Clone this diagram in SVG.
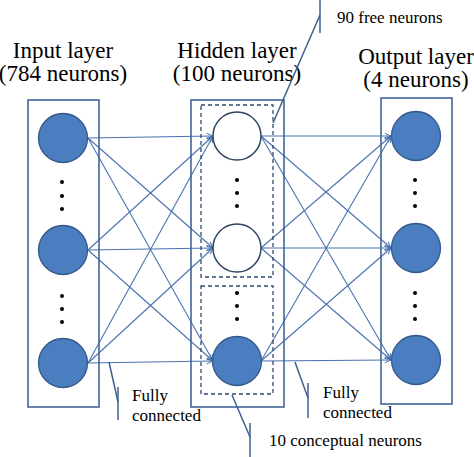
<svg xmlns="http://www.w3.org/2000/svg" width="474" height="457" viewBox="0 0 474 457">
<defs>
<marker id="arr" viewBox="0 0 10 10" refX="10" refY="5" markerWidth="7" markerHeight="7" orient="auto" markerUnits="userSpaceOnUse">
<path d="M1,1 L10,5 L1,9" fill="none" stroke="#4a72b0" stroke-width="1.4"/>
</marker>
<style>
.t{font-family:"Liberation Serif","Times New Roman",serif;fill:#000}
.big{font-size:23px}
.sm{font-size:17px}
.box{fill:none;stroke:#41649a;stroke-width:1.6}
.dash{fill:none;stroke:#2e4a70;stroke-width:1.3;stroke-dasharray:4,3}
.full{fill:#4a7ec0;stroke:#34598a;stroke-width:1.3}
.empty{fill:#fff;stroke:#2e4566;stroke-width:1.5}
.c{stroke:#4a72b0;stroke-width:1.1;fill:none;marker-end:url(#arr)}
.lead{stroke:#3f5f8f;stroke-width:1.5;fill:none}
.dot{fill:#000}
</style>
</defs>
<rect width="474" height="457" fill="#fff"/>

<g id="labels">
<text class="t big" x="63" y="58" text-anchor="middle">Input layer</text>
<text class="t big" x="63" y="81" text-anchor="middle">(784 neurons)</text>
<text class="t big" x="237" y="58" text-anchor="middle">Hidden layer</text>
<text class="t big" x="237" y="81" text-anchor="middle">(100 neurons)</text>
<text class="t big" x="416" y="64" text-anchor="middle">Output layer</text>
<text class="t big" x="416" y="87" text-anchor="middle">(4 neurons)</text>
</g>

<g id="connectors">
<line class="c" x1="88" y1="138" x2="213" y2="136"/>
<line class="c" x1="88" y1="138" x2="213" y2="248"/>
<line class="c" x1="88" y1="138" x2="213" y2="361"/>
<line class="c" x1="88" y1="250" x2="213" y2="136"/>
<line class="c" x1="88" y1="250" x2="213" y2="248"/>
<line class="c" x1="88" y1="250" x2="213" y2="361"/>
<line class="c" x1="88" y1="363" x2="213" y2="136"/>
<line class="c" x1="88" y1="363" x2="213" y2="248"/>
<line class="c" x1="88" y1="363" x2="213" y2="361"/>
<line class="c" x1="261" y1="136" x2="391" y2="136"/>
<line class="c" x1="261" y1="136" x2="391" y2="248"/>
<line class="c" x1="261" y1="136" x2="391" y2="360"/>
<line class="c" x1="261" y1="248" x2="391" y2="136"/>
<line class="c" x1="261" y1="248" x2="391" y2="248"/>
<line class="c" x1="261" y1="248" x2="391" y2="360"/>
<line class="c" x1="261" y1="361" x2="391" y2="136"/>
<line class="c" x1="261" y1="361" x2="391" y2="248"/>
<line class="c" x1="261" y1="361" x2="391" y2="360"/>
</g>

<g id="input-layer">
<rect class="box" x="28" y="100" width="71" height="307"/>
<circle class="full" cx="63" cy="138" r="24.5"/>
<circle class="full" cx="63" cy="250" r="24.5"/>
<circle class="full" cx="63" cy="363" r="24.5"/>
<circle class="dot" cx="62" cy="182" r="2"/>
<circle class="dot" cx="62" cy="196" r="2"/>
<circle class="dot" cx="62" cy="209" r="2"/>
<circle class="dot" cx="62" cy="296" r="2"/>
<circle class="dot" cx="62" cy="309" r="2"/>
<circle class="dot" cx="62" cy="322" r="2"/>
</g>

<g id="hidden-layer">
<rect class="box" x="191" y="100" width="93" height="307"/>
<rect class="dash" x="201" y="105" width="72" height="172"/>
<rect class="dash" x="201" y="286" width="72" height="108"/>
<circle class="empty" cx="237" cy="136" r="24"/>
<circle class="empty" cx="237" cy="248" r="24"/>
<circle class="full" cx="237" cy="361" r="24.5"/>
<circle class="dot" cx="237" cy="180" r="2"/>
<circle class="dot" cx="237" cy="193" r="2"/>
<circle class="dot" cx="237" cy="206" r="2"/>
<circle class="dot" cx="237" cy="293" r="2"/>
<circle class="dot" cx="237" cy="306" r="2"/>
<circle class="dot" cx="237" cy="319" r="2"/>
</g>

<g id="output-layer">
<rect class="box" x="381" y="98" width="71" height="306"/>
<circle class="full" cx="416" cy="136" r="24.5"/>
<circle class="full" cx="416" cy="248" r="24.5"/>
<circle class="full" cx="416" cy="360" r="24.5"/>
<circle class="dot" cx="415" cy="180" r="2"/>
<circle class="dot" cx="415" cy="193" r="2"/>
<circle class="dot" cx="415" cy="206" r="2"/>
<circle class="dot" cx="415" cy="293" r="2"/>
<circle class="dot" cx="415" cy="306" r="2"/>
<circle class="dot" cx="415" cy="319" r="2"/>
</g>

<g id="callout-free">
<path class="lead" d="M273,123 L320,15"/>
<path class="lead" d="M320,0 L320,33"/>
<text class="t sm" x="337" y="23">90 free neurons</text>
</g>

<g id="callout-fc-left">
<path class="lead" d="M109,362 L118,402"/>
<path class="lead" d="M118,387 L118,420"/>
<text class="t sm" x="132" y="401">Fully</text>
<text class="t sm" x="132" y="421">connected</text>
</g>

<g id="callout-fc-right">
<path class="lead" d="M295,362 L308,398"/>
<path class="lead" d="M308,383 L308,418"/>
<text class="t sm" x="323" y="398">Fully</text>
<text class="t sm" x="323" y="418">connected</text>
</g>

<g id="callout-conceptual">
<path class="lead" d="M232,395 L250,437"/>
<path class="lead" d="M250,423 L250,457"/>
<text class="t sm" x="269" y="446">10 conceptual neurons</text>
</g>
</svg>
